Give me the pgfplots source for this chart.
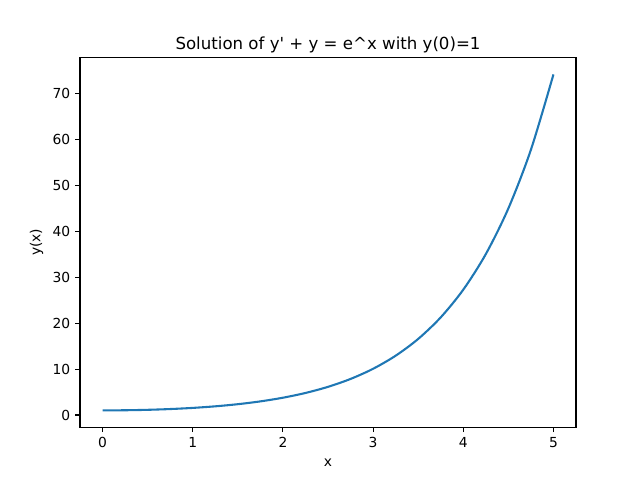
\documentclass[border=0pt]{standalone}
\usepackage{fontspec}
\setmainfont{DejaVu Sans}[Ligatures=TeXOff]
\usepackage{pgfplots}
\pgfplotsset{compat=1.18}
\definecolor{mplblue}{HTML}{1F77B4}
\begin{document}
\fontsize{10}{12}\selectfont
\begin{tikzpicture}
\begin{axis}[
  scale only axis, width=357.12bp, height=266.11bp,
  xmin=-0.25, xmax=5.25, ymin=-2.66, ymax=77.87,
  xtick={0,1,2,3,4,5}, ytick={0,10,20,30,40,50,60,70},
  tick pos=left, tick align=outside,
  major tick length=3.5bp,
  every tick/.style={black, line width=0.8bp},
  axis line style={line width=0.8bp},
  /pgf/number format/assume math mode=true,
  ticklabel style={font=\fontsize{10}{12}\selectfont},
  label style={font=\fontsize{10}{12}\selectfont},
  xlabel={x}, ylabel={y(x)},
  xlabel style={yshift=-1.5bp},
  title={Solution of y' + y = e\textasciicircum x with y(0)=1},
  title style={font=\fontsize{12}{14}\selectfont, at={(0.5,1)}, anchor=base, yshift=0pt, inner sep=0pt},
]
\addplot[mplblue, line width=1.5bp, smooth] coordinates {
(0,1) (0.25,1.0314) (0.5,1.1276) (0.75,1.2947) (1,1.5431) (1.25,1.8884)
(1.5,2.3524) (1.75,2.9642) (2,3.7622) (2.25,4.7966) (2.5,6.1323)
(2.75,7.8533) (3,10.0677) (3.25,12.9146) (3.5,16.5728) (3.75,21.2722)
(4,27.3082) (4.25,35.0598) (4.5,45.0141) (4.75,57.7965) (5,74.2099)
};
\end{axis}
\path ([xshift=-57.6bp,yshift=-38.016bp]current axis.south west) rectangle ([xshift=46.08bp,yshift=41.472bp]current axis.north east);
\end{tikzpicture}
\end{document}
